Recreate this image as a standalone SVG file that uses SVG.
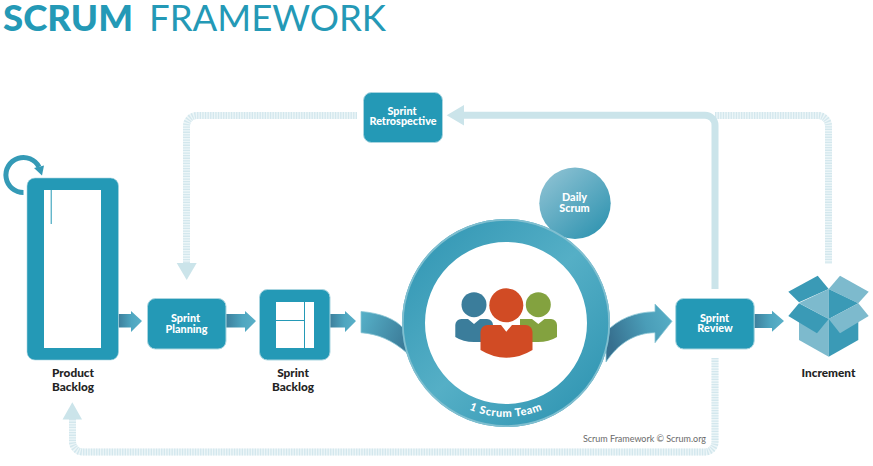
<svg xmlns="http://www.w3.org/2000/svg" width="873" height="466" viewBox="0 0 873 466">
<style>
text{font-family:Lato,"Noto Sans","Liberation Sans",sans-serif}
.box{fill:#2499b6;stroke:#a9d5e0;stroke-width:1}
.w{fill:#fff;font-weight:900;font-size:10.8px;text-anchor:middle}
.k{fill:#232323;font-weight:900;font-size:11.8px;text-anchor:middle}
.solid{fill:none;stroke:#cbe4ea;stroke-width:7}
.base{fill:none;stroke:#edf6f8;stroke-width:7}
.hatch{fill:none;stroke:#d3e7ed;stroke-width:7;stroke-dasharray:1.3 1.3}
.head{fill:#cbe4ea}
.dk{fill:#3a9ab6}
.lt{fill:#7dbacd}
</style>
<defs>
<linearGradient id="ar" x1="0" x2="1" y1="0" y2="0"><stop offset="0" stop-color="#3d7f9c"/><stop offset=".55" stop-color="#4ea6c0"/><stop offset="1" stop-color="#5ab0c8"/></linearGradient>
<linearGradient id="cin" gradientUnits="userSpaceOnUse" x1="361" y1="320" x2="406" y2="340"><stop offset="0" stop-color="#55aec6"/><stop offset="1" stop-color="#3c7c99"/></linearGradient>
<linearGradient id="cout" gradientUnits="userSpaceOnUse" x1="610" y1="340" x2="672" y2="320"><stop offset="0" stop-color="#37708f"/><stop offset=".6" stop-color="#4a9db8"/><stop offset="1" stop-color="#56adc5"/></linearGradient>
<linearGradient id="ring" x1=".12" y1=".12" x2=".88" y2=".88"><stop offset="0" stop-color="#3a9cb8"/><stop offset=".5" stop-color="#55afc6"/><stop offset="1" stop-color="#379ab6"/></linearGradient>
<linearGradient id="daily" x1=".15" y1=".1" x2=".85" y2=".9"><stop offset="0" stop-color="#88bfd1"/><stop offset="1" stop-color="#3496b2"/></linearGradient>
<path id="teamArc" d="M412 323A94 94 0 0 0 600 323"/>
</defs>

<g id="title">
<text x="3" y="31" font-size="36" font-weight="900" fill="#2499b6" textLength="130" lengthAdjust="spacingAndGlyphs">SCRUM</text>
<text x="149" y="31" font-size="36" font-weight="400" fill="#2499b6" textLength="237" lengthAdjust="spacingAndGlyphs">FRAMEWORK</text>
</g>

<g id="connectors">
<path class="base" d="M715 115.500H818a10.500 10.500 0 0 1 10.500 10.500V264"/>
<path class="hatch" d="M715 115.500H818a10.500 10.500 0 0 1 10.500 10.500V264"/>
<path class="solid" d="M464 115.200H705a10 10 0 0 1 10 10V289"/>
<path class="head" d="M446.700 115.200L464 105V125.400Z"/>
<path class="base" d="M357 115.500H197a10.500 10.500 0 0 0 -10.500 10.500V263"/>
<path class="hatch" d="M357 115.500H197a10.500 10.500 0 0 0 -10.500 10.500V263"/>
<path class="head" d="M176.700 263H196.700L186.700 280Z"/>
<path class="base" d="M715 358V442a10 10 0 0 1 -10 10H83a10.500 10.500 0 0 1 -10.500 -10V419"/>
<path class="hatch" d="M715 358V442a10 10 0 0 1 -10 10H83a10.500 10.500 0 0 1 -10.500 -10V419"/>
<path class="head" d="M62.500 419.500H82L72.300 402.300Z"/>
<path fill="url(#ar)" d="M118.500 314H131V311L142 321L131 332V327.500H118.500Z"/>
<path fill="url(#ar)" d="M226 314H245V311L256 321L245 332V327.500H226Z"/>
<path fill="url(#ar)" d="M330 314H345V311L356 321L345 332V327.500H330Z"/>
<path fill="url(#ar)" d="M754 314H772V310.700L784 321L772 331.700V328H754Z"/>
<path fill="url(#cin)" stroke="#8cc6d6" stroke-width=".8" d="M361 311.500C380 313 396 319 404 329L407 353C392 340 378 334 361 332.700Z"/>
<path fill="url(#cout)" stroke="#8cc6d6" stroke-width=".8" d="M606 332C618 319 635 312 655 311.700V304L672 321.300L655 342.700V332.700C634 333 618 344 606 362Z"/>
</g>

<g id="daily-scrum">
<circle cx="575" cy="203.300" r="35.700" fill="url(#daily)"/>
<text class="w" x="574.500" y="200.700">Daily</text>
<text class="w" x="574.500" y="212">Scrum</text>
</g>

<g id="scrum-team">
<circle cx="506" cy="323" r="92.500" fill="none" stroke="url(#ring)" stroke-width="23"/>
<circle cx="506" cy="323" r="103.200" fill="none" stroke="#80bfd0" stroke-width="1.800"/>
<text fill="#fff" font-size="11" font-weight="900" letter-spacing=".6"><textPath href="#teamArc" startOffset="50%" text-anchor="middle">1 Scrum Team</textPath></text>
<circle cx="474" cy="304.700" r="12.500" fill="#3b7d9b"/>
<path fill="#3b7d9b" d="M455.300 325a6 6 0 0 1 6-6H468L474 324L480 319H487a6 6 0 0 1 6 6V342H474Q463 342 455.300 337Z"/>
<circle cx="538.300" cy="304.700" r="12.500" fill="#83a23f"/>
<path fill="#83a23f" d="M520 319H532L538.300 324L544.500 319H551a6 6 0 0 1 6 6V337Q549 342 538 342H520Z"/>
<circle cx="506.300" cy="305.300" r="17" fill="#d14b24"/>
<path fill="#d14b24" d="M480.500 332a7 7 0 0 1 7-7H501L506.300 331.700L512 325H525.500a7 7 0 0 1 7 7V350Q520 357.700 506.300 357.700Q493 357.700 480.500 350Z"/>
</g>

<g id="product-backlog">
<path fill="none" stroke="#349ab6" stroke-width="5" d="M23.500 192.500A17.500 17.500 0 1 1 39 167"/>
<path fill="#349ab6" d="M44 165.500L42 175.500L34 168Z"/>
<rect x="27" y="178" width="91.500" height="182" rx="8" fill="#2499b6" stroke="#a9d5e0" stroke-width=".6"/>
<rect x="44" y="190" width="57" height="158" fill="#fff"/>
<rect x="50.700" y="190" width="1" height="34" fill="#2499b6"/>
<text class="k" x="73" y="376.700">Product</text>
<text class="k" x="73" y="390.700">Backlog</text>
</g>

<g id="sprint-planning">
<rect class="box" x="147.500" y="298.500" width="78.500" height="50.500" rx="8"/>
<text class="w" x="185.500" y="322">Sprint</text>
<text class="w" x="186.500" y="332.500">Planning</text>
</g>

<g id="sprint-backlog">
<rect class="box" x="259.500" y="289.500" width="70.500" height="70.500" rx="8"/>
<rect x="276" y="302" width="38" height="46" fill="#fff"/>
<rect x="304" y="302" width="1" height="46" fill="#2499b6"/>
<rect x="276" y="320" width="28" height="1" fill="#2499b6"/>
<text class="k" x="293" y="376.700">Sprint</text>
<text class="k" x="293" y="390.700">Backlog</text>
</g>

<g id="sprint-retrospective">
<rect class="box" x="363.500" y="92.500" width="79" height="50" rx="8"/>
<text class="w" x="402" y="115">Sprint</text>
<text class="w" x="403" y="125.300">Retrospective</text>
</g>

<g id="sprint-review">
<rect class="box" x="675.700" y="298.500" width="78.500" height="50.500" rx="8"/>
<text class="w" x="714.500" y="321.700">Sprint</text>
<text class="w" x="715" y="332">Review</text>
</g>

<g id="increment">
<path class="lt" d="M799 310L828.700 319V356.700L799 340Z"/>
<path class="dk" d="M858.300 310L828.700 319V356.700L858.300 340Z"/>
<path class="dk" d="M817.700 275.700L828.700 289L799 302.300L788.300 291.700Z"/>
<path class="lt" d="M840 275.700L868.700 291.700L858.300 303.300L828.700 289Z"/>
<path class="lt" d="M828.700 289L799 303L828.700 319Z"/>
<path class="dk" d="M828.700 289L858.300 303.300L828.700 319Z"/>
<path class="dk" d="M799 303.300L828.700 319L817 333.300L788.300 316Z"/>
<path class="lt" d="M858.300 303.300L868.700 316L840 333.300L828.700 319Z"/>
<text class="k" x="828.500" y="376.700">Increment</text>
</g>

<g id="credit">
<text x="583" y="442" font-size="9" fill="#6a6a6a" textLength="123">Scrum Framework © Scrum.org</text>
</g>
</svg>
